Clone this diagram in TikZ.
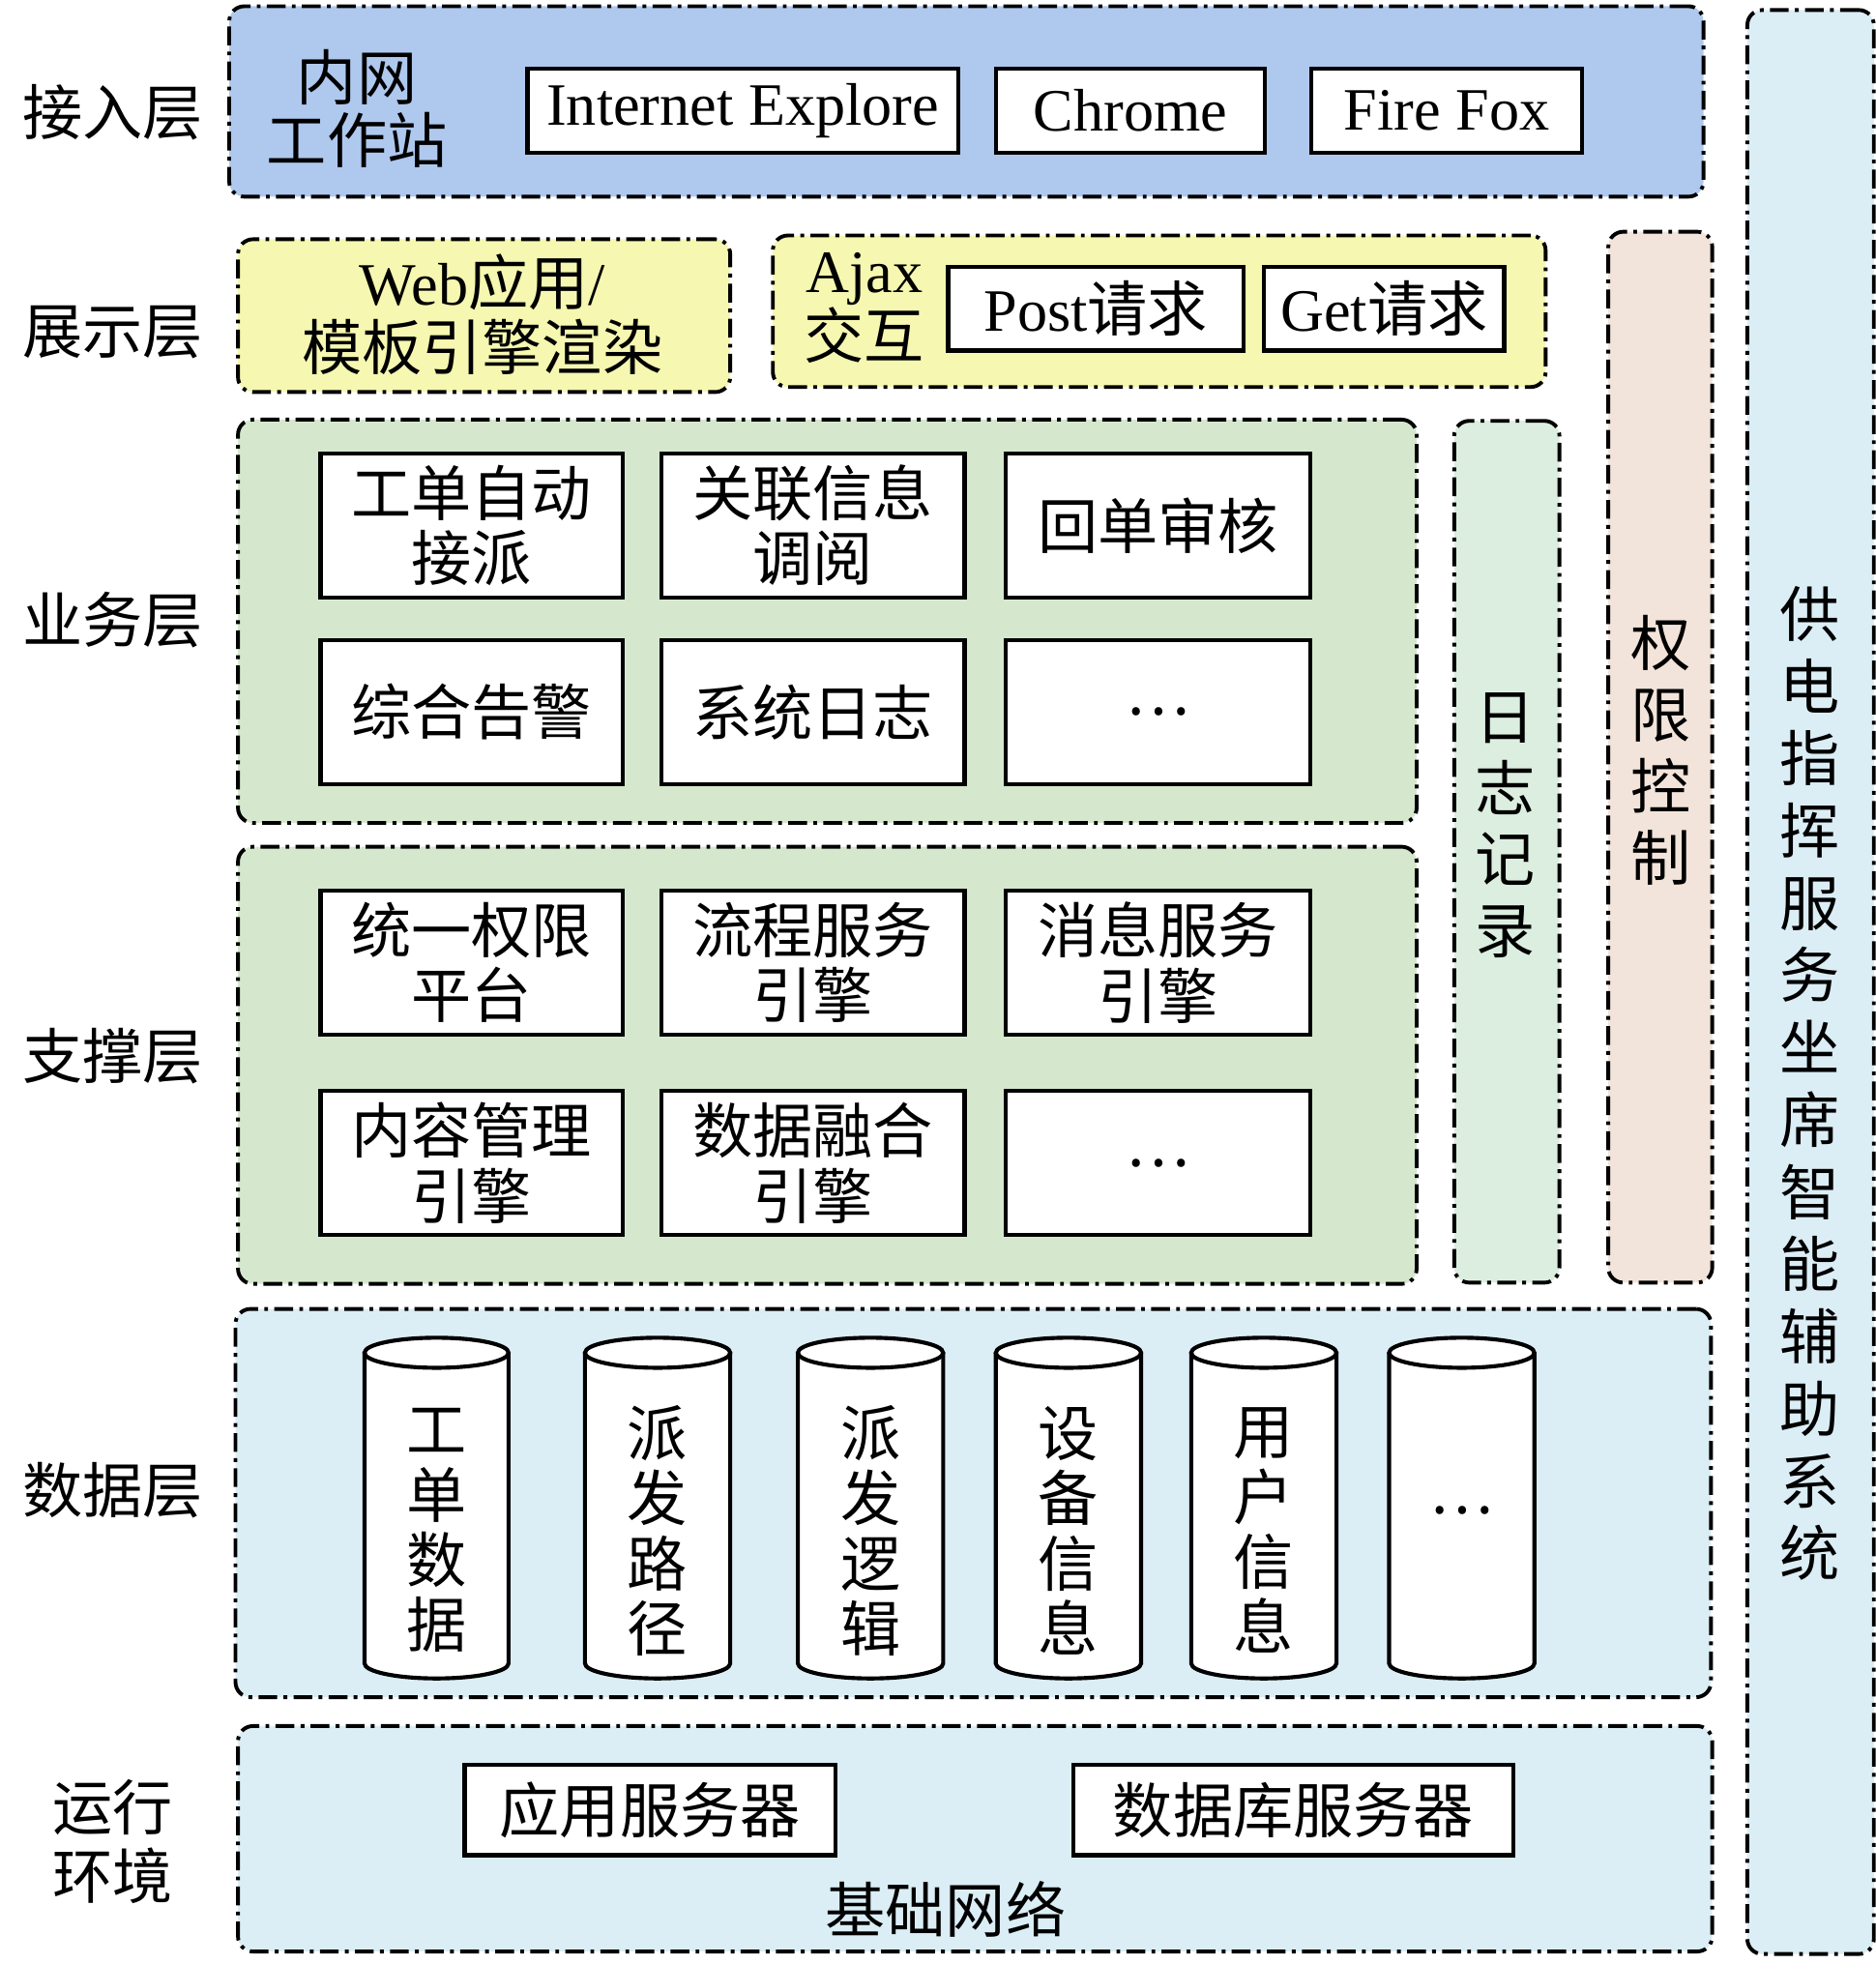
\documentclass[tikz,border=0pt]{standalone}
\usepackage{fontspec}
\setmainfont{Liberation Serif}
\newfontfamily\cjk{Noto Sans CJK SC}
\newfontfamily\lat{Liberation Serif}
\usetikzlibrary{fit}
\definecolor{cBlue}{RGB}{175,200,238}
\definecolor{cYellow}{RGB}{246,247,176}
\definecolor{cGreen}{RGB}{213,232,206}
\definecolor{cLog}{RGB}{220,238,224}
\definecolor{cPeach}{RGB}{242,228,218}
\definecolor{cLight}{RGB}{219,237,245}
\tikzset{
 layerbox/.style={draw=black, line width=3pt, dash pattern=on 15pt off 5pt on 3pt off 5pt, rounded corners=12pt, inner sep=0pt},
 wbox/.style={draw=black, line width=3.4pt, fill=white, inner sep=0pt},
 t/.style={font=\cjk\fontsize{48}{52}\selectfont, align=center, inner sep=0pt},
 lt/.style={font=\lat\fontsize{48}{52}\selectfont, align=center, inner sep=0pt},
 cylst/.style={draw=black, line width=3.2pt, fill=white},
}
% white box: name, x1, y1, x2, y2, text style, text
\newcommand\wb[7]{%
  \node[wbox, fit={(#2,#3) (#4,#5)}] (#1) {};
  \node[#6] (#1-t) at (#1.center) {#7};
}
\newcommand\mycyl[4]{%
  \pgfmathsetmacro\mycx{(#2+#3)/2}%
  \pgfmathsetmacro\myrx{(#3-#2)/2}%
  \path[cylst] (#2,1080) -- (#2,1328) arc[start angle=180, end angle=0, x radius=\myrx, y radius=12] -- (#3,1080);
  \path[cylst] (\mycx,1080) ellipse[x radius=\myrx, y radius=12];
  \node[t] (#1) at (\mycx,1222) {#4};
}
\begin{document}
\begin{tikzpicture}[x=1pt,y=-1pt]
\fill[white] (0,0) rectangle (1497,1568);
\path[use as bounding box] (0,0) rectangle (1497,1568);

% layer labels
\node[t] (l1) at (90,90) {接入层};
\node[t] (l2) at (90,265) {展示层};
\node[t] (l3) at (90,495) {业务层};
\node[t] (l4) at (90,843) {支撑层};
\node[t] (l5) at (90,1190) {数据层};
\node[t, font=\cjk\fontsize{48}{55}\selectfont] (l6) at (90,1470) {运行\\环境};

% right columns
\node[layerbox, fill=cLight, fit={(1395,8) (1496,1560)}] (sys) {};
\node[t, font=\cjk\fontsize{48}{57.7}\selectfont] (systxt) at (1445,865) {供\\电\\指\\挥\\服\\务\\坐\\席\\智\\能\\辅\\助\\系\\统};
\node[layerbox, fill=cPeach, fit={(1284,185) (1367,1024)}] (perm) {};
\node[t, font=\cjk\fontsize{48}{57}\selectfont] (permtxt) at (1326,599) {权\\限\\控\\制};
\node[layerbox, fill=cLog, fit={(1161,336) (1245,1024)}] (log) {};
\node[t, font=\cjk\fontsize{48}{57}\selectfont] (logtxt) at (1202,659) {日\\志\\记\\录};

% access layer
\node[layerbox, fill=cBlue, fit={(183,5) (1360,157)}] (acc) {};
\node[t, font=\cjk\fontsize{48}{50}\selectfont] (ws) at (285,87) {内网\\工作站};
\wb{ie}{421}{55}{765}{122}{lt}{Internet Explore}
\wb{chrome}{795}{55}{1010}{122}{lt}{Chrome}
\wb{ff}{1047}{55}{1263}{122}{lt}{Fire Fox}

% presentation layer
\node[layerbox, fill=cYellow, fit={(190,191) (583,313)}] (web) {};
\node[t] (webtxt) at (385,251) {{\lat Web}应用{\lat /}\\模板引擎渲染};
\node[layerbox, fill=cYellow, fit={(617,188) (1234,309)}] (ajax) {};
\node[t] (ajaxtxt) at (690,246) {{\lat Ajax}\\交互};
\wb{post}{757}{213}{993}{280}{t}{{\lat Post}请求}
\wb{get}{1009}{213}{1201}{280}{t}{{\lat Get}请求}

% business layer
\node[layerbox, fill=cGreen, fit={(190,335) (1131,657)}] (biz) {};
\wb{b1}{256}{362}{497}{477}{t}{工单自动\\接派}
\wb{b2}{528}{362}{770}{477}{t}{关联信息\\调阅}
\wb{b3}{803}{362}{1046}{477}{t}{回单审核}
\wb{b4}{256}{511}{497}{626}{t}{综合告警}
\wb{b5}{528}{511}{770}{626}{t}{系统日志}
\wb{b6}{803}{511}{1046}{626}{t}{…}

% support layer
\node[layerbox, fill=cGreen, fit={(190,676) (1131,1025)}] (sup) {};
\wb{s1}{256}{711}{497}{826}{t}{统一权限\\平台}
\wb{s2}{528}{711}{770}{826}{t}{流程服务\\引擎}
\wb{s3}{803}{711}{1046}{826}{t}{消息服务\\引擎}
\wb{s4}{256}{871}{497}{986}{t}{内容管理\\引擎}
\wb{s5}{528}{871}{770}{986}{t}{数据融合\\引擎}
\wb{s6}{803}{871}{1046}{986}{t}{…}

% data layer
\node[layerbox, fill=cLight, fit={(188,1045) (1366,1355)}] (data) {};
\mycyl{d1}{291}{406}{工\\单\\数\\据}
\mycyl{d2}{467}{583}{派\\发\\路\\径}
\mycyl{d3}{637}{753}{派\\发\\逻\\辑}
\mycyl{d4}{795}{911}{设\\备\\信\\息}
\mycyl{d5}{951}{1067}{用\\户\\信\\息}
\mycyl{d6}{1109}{1225}{}
\node[t] (d6txt) at (1167,1206) {…};

% runtime environment
\node[layerbox, fill=cLight, fit={(190,1378) (1367,1558)}] (run) {};
\wb{app}{371}{1409}{667}{1481}{t}{应用服务器}
\wb{db}{857}{1409}{1208}{1481}{t}{数据库服务器}
\node[t] (net) at (755,1524) {基础网络};
\end{tikzpicture}
\end{document}
